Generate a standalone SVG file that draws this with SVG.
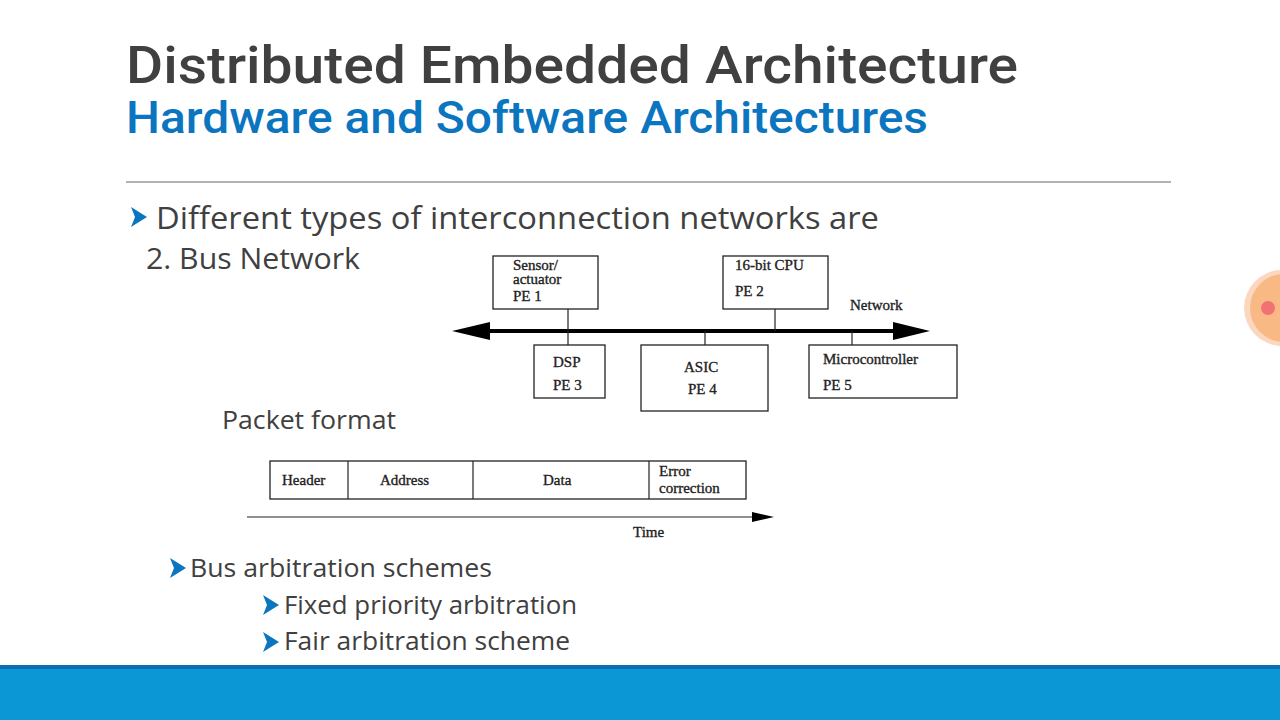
<svg xmlns="http://www.w3.org/2000/svg" width="1280" height="720" viewBox="0 0 1280 720">
<style>
.b{fill:#fff;stroke:#222;stroke-width:1.3}
.s{font-family:"Liberation Serif",serif;font-size:15px;fill:#222;stroke:#222;stroke-width:0.35}
.t{font-family:"Open Sans","Liberation Sans",sans-serif;fill:#404040}
.ln{stroke:#222;stroke-width:1.2;fill:none}
.ar{fill:#0b75c0}
</style>
<defs>
<path id="bul" d="M0,0 L16,10 L0,20 L4,10 Z"/>
</defs>
<rect width="1280" height="720" fill="#fff"/>
<text x="126" y="83" font-size="52" font-weight="500" style="font-family:Roboto,sans-serif" fill="#404040" textLength="892" lengthAdjust="spacingAndGlyphs">Distributed Embedded Architecture</text>
<text x="126" y="133" font-size="44" font-weight="500" style="font-family:Roboto,sans-serif" fill="#0b75c0" textLength="802" lengthAdjust="spacingAndGlyphs">Hardware and Software Architectures</text>
<line x1="126" y1="182" x2="1171" y2="182" stroke="#999" stroke-width="1.5"/>
<use href="#bul" class="ar" x="131" y="207"/>
<text x="156" y="229" class="t" font-size="31" textLength="723" lengthAdjust="spacingAndGlyphs">Different types of interconnection networks are</text>
<text x="146" y="269" class="t" font-size="29" textLength="214" lengthAdjust="spacingAndGlyphs">2. Bus Network</text>
<text x="222" y="429" class="t" font-size="25" textLength="174" lengthAdjust="spacingAndGlyphs">Packet format</text>
<use href="#bul" class="ar" x="170" y="558"/>
<text x="190" y="577" class="t" font-size="25" textLength="302" lengthAdjust="spacingAndGlyphs">Bus arbitration schemes</text>
<use href="#bul" class="ar" x="263" y="595"/>
<text x="284" y="614" class="t" font-size="25" textLength="293" lengthAdjust="spacingAndGlyphs">Fixed priority arbitration</text>
<use href="#bul" class="ar" x="263" y="632"/>
<text x="284" y="650" class="t" font-size="25" textLength="286" lengthAdjust="spacingAndGlyphs">Fair arbitration scheme</text>
<g id="connectors">
<line x1="480" y1="331" x2="900" y2="331" stroke="#000" stroke-width="4"/>
<polygon points="452,331 490,322 490,340" fill="#000"/>
<polygon points="930,331 893,322 893,340" fill="#000"/>
<line class="ln" x1="568" y1="309" x2="568" y2="345"/>
<line class="ln" x1="775" y1="309" x2="775" y2="331"/>
<line class="ln" x1="705" y1="331" x2="705" y2="345"/>
<line class="ln" x1="852" y1="331" x2="852" y2="345"/>
<line class="ln" x1="247" y1="517" x2="755" y2="517"/>
<polygon points="774,517 752,512 752,522" fill="#000"/>
</g>
<g id="pe1"><rect class="b" x="493" y="256" width="105" height="53"/><text class="s" x="513" y="270" font-size="14">Sensor/</text><text class="s" x="513" y="284" font-size="14">actuator</text><text class="s" x="513" y="301">PE 1</text></g>
<g id="pe2"><rect class="b" x="723" y="256" width="105" height="53"/><text class="s" x="735" y="270">16-bit CPU</text><text class="s" x="735" y="296">PE 2</text></g>
<text class="s" x="850" y="310">Network</text>
<g id="pe3"><rect class="b" x="534" y="345" width="71" height="53"/><text class="s" x="553" y="367">DSP</text><text class="s" x="553" y="390">PE 3</text></g>
<g id="pe4"><rect class="b" x="641" y="345" width="127" height="66"/><text class="s" x="684" y="372">ASIC</text><text class="s" x="688" y="394">PE 4</text></g>
<g id="pe5"><rect class="b" x="809" y="345" width="148" height="53"/><text class="s" x="823" y="364">Microcontroller</text><text class="s" x="823" y="390">PE 5</text></g>
<g id="packet">
<rect class="b" x="270" y="461" width="476" height="38"/>
<line class="ln" x1="348" y1="461" x2="348" y2="499"/>
<line class="ln" x1="473" y1="461" x2="473" y2="499"/>
<line class="ln" x1="649" y1="461" x2="649" y2="499"/>
<text class="s" x="282" y="485">Header</text><text class="s" x="380" y="485">Address</text><text class="s" x="543" y="485">Data</text>
<text class="s" x="659" y="476" font-size="14">Error</text><text class="s" x="659" y="493" font-size="14">correction</text>
</g>
<text class="s" x="633" y="537">Time</text>
<circle cx="1282" cy="308" r="38" fill="#fbd7c0"/>
<circle cx="1284" cy="308" r="34" fill="#f8b985"/>
<circle cx="1268" cy="308" r="7" fill="#f27273"/>
<rect x="0" y="665" width="1280" height="55" fill="#0b96d6"/>
<rect x="0" y="665" width="1280" height="4" fill="#0a6db0"/>
</svg>
